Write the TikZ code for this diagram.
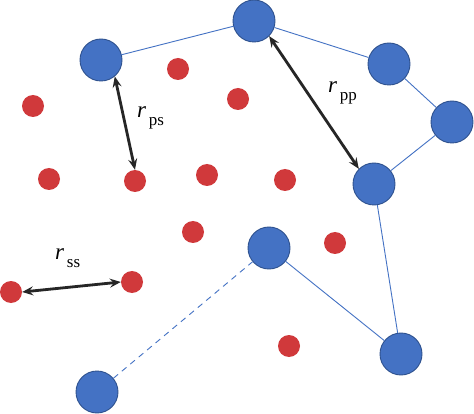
\documentclass[tikz,border=0pt]{standalone}
\usepackage{fontspec}
\setmainfont{Liberation Serif}
\usetikzlibrary{arrows.meta}
\definecolor{pblue}{HTML}{4472C4}
\definecolor{pblueline}{HTML}{2F528F}
\definecolor{sred}{HTML}{D0393B}
\definecolor{arr}{HTML}{262626}
\newcommand{\distlab}[1]{\fontsize{23}{23}\selectfont\itshape r\fontsize{17}{17}\selectfont\upshape\raisebox{-8pt}{\,#1}}
\begin{document}
\begin{tikzpicture}[x=1pt,y=-1pt,
  pnode/.style={circle,fill=pblue,draw=pblueline,line width=0.9pt,minimum size=42pt,inner sep=0pt},
  snode/.style={circle,fill=sred,draw=none,minimum size=22pt,inner sep=0pt},
  link/.style={draw=pblue,line width=0.9pt},
  dlink/.style={draw=pblue,line width=0.9pt,dash pattern=on 6pt off 5pt},
  dist/.style={draw=arr,line width=2.8pt,{Stealth[length=11pt,width=9pt,inset=4pt]}-{Stealth[length=11pt,width=9pt,inset=4pt]}},
  lab/.style={inner sep=0pt}]
\fill[white] (0,0) rectangle (474,414);
\useasboundingbox (0,0) rectangle (474,414);
% red nodes
\node[snode] (s1) at (178,69) {};
\node[snode] (s2) at (33,106) {};
\node[snode] (s3) at (238,99) {};
\node[snode] (s4) at (49,179) {};
\node[snode] (s5) at (135,181) {};
\node[snode] (s6) at (207,175) {};
\node[snode] (s7) at (285,180) {};
\node[snode] (s8) at (193,232) {};
\node[snode] (s9) at (335,243) {};
\node[snode] (s10) at (11,292) {};
\node[snode] (s11) at (132,282) {};
\node[snode] (s12) at (289,346) {};
% blue nodes
\node[pnode] (p1) at (101,60) {};
\node[pnode] (p2) at (254,21) {};
\node[pnode] (p3) at (389,64) {};
\node[pnode] (p4) at (452,122) {};
\node[pnode] (p5) at (374,184) {};
\node[pnode] (p6) at (269,248) {};
\node[pnode] (p7) at (401,354) {};
\node[pnode] (p8) at (97,392) {};
% links
\path[link] (p1) -- (p2);
\path[link] (p2) -- (p3);
\path[link] (p3) -- (p4);
\path[link] (p4) -- (p5);
\path[link] (p5) -- (p7);
\path[link] (p6) -- (p7);
\path[dlink] (p8) -- (p6);
% distance arrows
\draw[dist] (p1.-50) -- (s5.north);
\draw[dist] (p2.-45) -- (p5.135);
\draw[dist] (s10.east) -- (s11.west);
% labels
\node[lab,anchor=base west] (lps) at (137,118) {\distlab{ps}};
\node[lab,anchor=base west] (lpp) at (328,93) {\distlab{pp}};
\node[lab,anchor=base west] (lss) at (55,259) {\distlab{ss}};
\end{tikzpicture}
\end{document}
